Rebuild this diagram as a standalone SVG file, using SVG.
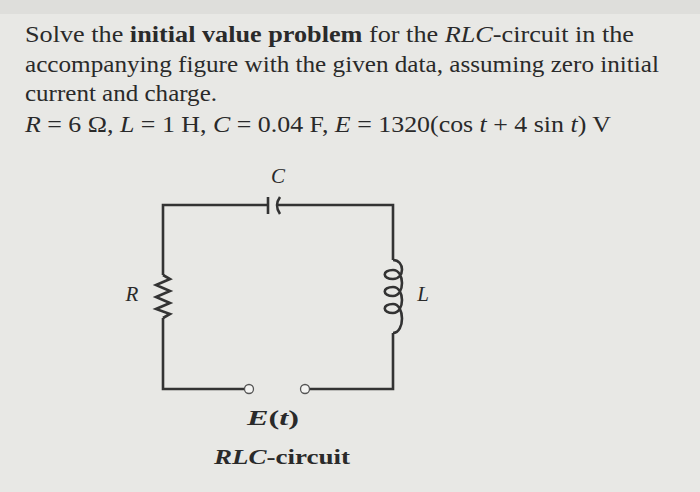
<svg xmlns="http://www.w3.org/2000/svg" width="700" height="492" viewBox="0 0 700 492">
<style>
.t{font-family:"Liberation Serif",serif;font-size:23px;fill:#2a2a2a}
.w{fill:none;stroke:#333;stroke-width:2.6}
.l{font-family:"Liberation Serif",serif;font-size:21px;fill:#2a2a2a}
</style>
<rect width="700" height="492" fill="#e8e8e5"/>
<rect width="700" height="14" fill="#dededb"/>
<g id="text">
<text class="t" x="25" y="42" textLength="609" lengthAdjust="spacingAndGlyphs">Solve the <tspan font-weight="bold">initial value problem</tspan> for the <tspan font-style="italic">RLC</tspan>-circuit in the</text>
<text class="t" x="25" y="72" textLength="634" lengthAdjust="spacingAndGlyphs">accompanying figure with the given data, assuming zero initial</text>
<text class="t" x="25" y="101" textLength="192" lengthAdjust="spacingAndGlyphs">current and charge.</text>
<text class="t" x="25" y="132" textLength="586" lengthAdjust="spacingAndGlyphs"><tspan font-style="italic">R</tspan> = 6 Ω, <tspan font-style="italic">L</tspan> = 1 H, <tspan font-style="italic">C</tspan> = 0.04 F, <tspan font-style="italic">E</tspan> = 1320(cos <tspan font-style="italic">t</tspan> + 4 sin <tspan font-style="italic">t</tspan>) V</text>
</g>
<g id="connectors">
<path class="w" d="M268 205 H163 V275 M163 318 V389 H245 M277 205 H393 V260 M393 333 V389 H309"/>
</g>
<g id="capacitor">
<line class="w" x1="268" y1="197" x2="268" y2="214"/>
<path class="w" d="M280 197 Q274 205.5 280 214"/>
<text class="l" x="278" y="183" text-anchor="middle" font-style="italic">C</text>
</g>
<g id="resistor">
<path class="w" d="M163 275 L170 279 L156 285 L170 291 L156 297 L170 303 L156 309 L170 314 L163 318"/>
<text class="l" x="132" y="301" text-anchor="middle" font-style="italic">R</text>
</g>
<g id="inductor">
<path class="w" d="M393 260 C405 260 405 279 393 279 C382 279 382 270 393 270 C405 270 405 296 393 296 C382 296 382 287 393 287 C405 287 405 313 393 313 C382 313 382 304 393 304 C405 304 405 333 393 333"/>
<text class="l" x="423" y="301" text-anchor="middle" font-style="italic">L</text>
</g>
<g id="source">
<circle cx="249" cy="389" r="4.5" fill="#f4f4f2" stroke="#555" stroke-width="1.3"/>
<circle cx="305" cy="389" r="4.5" fill="#f4f4f2" stroke="#555" stroke-width="1.3"/>
<text class="l" x="273" y="425" text-anchor="middle" font-weight="bold" textLength="52" lengthAdjust="spacingAndGlyphs"><tspan font-style="italic">E</tspan>(<tspan font-style="italic">t</tspan>)</text>
<text class="l" x="282" y="464" text-anchor="middle" font-weight="bold" textLength="136" lengthAdjust="spacingAndGlyphs"><tspan font-style="italic">RLC</tspan>-circuit</text>
</g>
</svg>
